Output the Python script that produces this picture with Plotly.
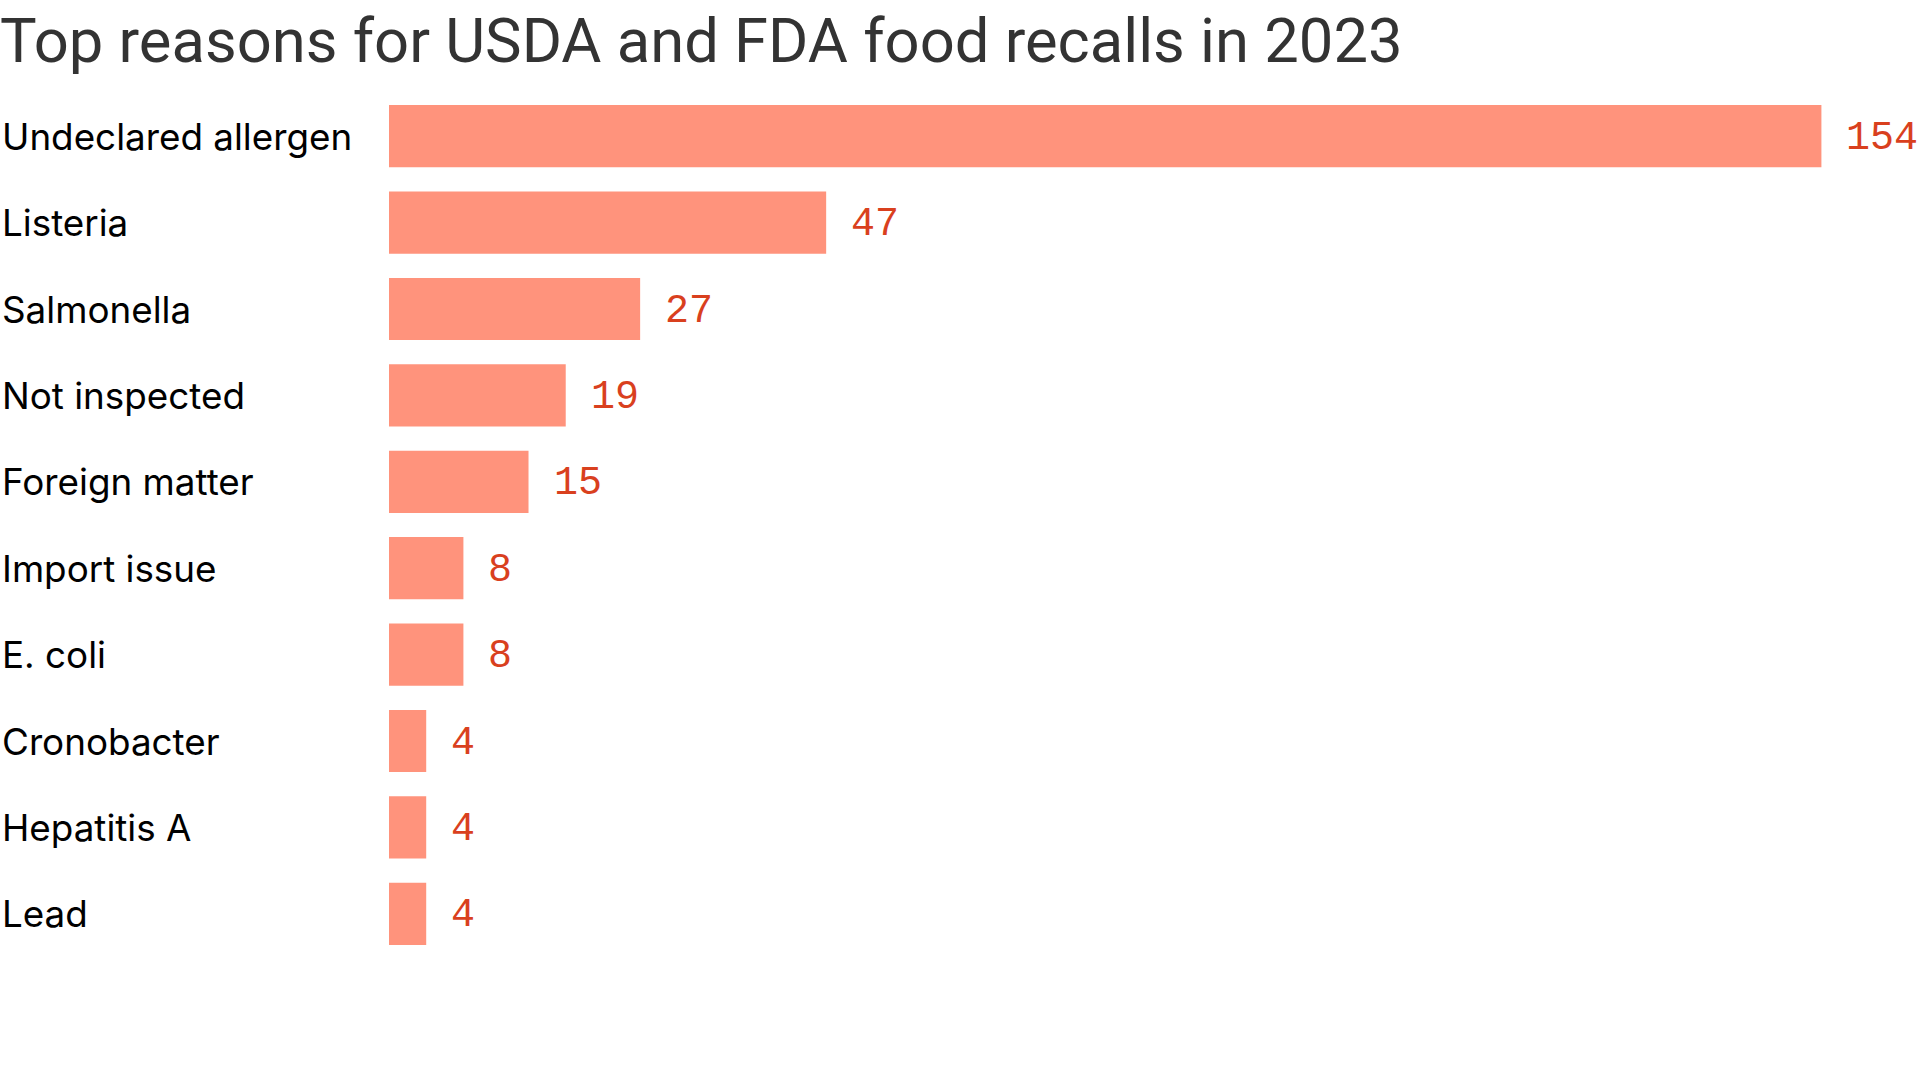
import plotly.graph_objects as go

categories = ["Undeclared allergen", "Listeria", "Salmonella", "Not inspected",
              "Foreign matter", "Import issue", "E. coli", "Cronobacter",
              "Hepatitis A", "Lead"]
values = [154, 47, 27, 19, 15, 8, 8, 4, 4, 4]
title_text = "Top reasons for USDA and FDA food recalls in 2023"

BAR_COLOR = "#ff937c"
VALUE_COLOR = "#d9401e"

W, H = 1920, 1080
plot_left = 389
top_m = 93
bot_m = 123

fig = go.Figure()
fig.add_trace(go.Bar(
    x=values,
    y=categories,
    orientation="h",
    marker=dict(color=BAR_COLOR, line=dict(width=0)),
    width=0.72,
    cliponaxis=False,
    hoverinfo="x+y",
))

annotations = []
for c in categories:
    annotations.append(dict(
        x=0, xref="paper", xanchor="left",
        y=c, yref="y", yanchor="middle",
        text=c, showarrow=False,
        font=dict(family="Inter, sans-serif", size=36.8, color="#000000"),
    ))
for c, v in zip(categories, values):
    annotations.append(dict(
        x=v, xref="x", xanchor="left", xshift=23,
        y=c, yref="y", yanchor="middle", yshift=-2,
        text=str(v), showarrow=False,
        font=dict(family="Liberation Mono, monospace", size=40, color=VALUE_COLOR),
    ))

fig.update_layout(
    width=W, height=H,
    margin=dict(l=0, r=0, t=top_m, b=bot_m, pad=0),
    paper_bgcolor="white",
    plot_bgcolor="white",
    showlegend=False,
    title=dict(
        text=title_text,
        x=0, xref="paper", xanchor="left",
        y=1 - 40 / H, yref="container", yanchor="middle",
        font=dict(family="Roboto, sans-serif", size=61.5, color="#333333"),
    ),
    xaxis=dict(visible=False, range=[0, 164.6],
               domain=[plot_left / W, 1]),
    yaxis=dict(visible=False, autorange="reversed",
               categoryorder="array", categoryarray=categories),
    annotations=annotations,
)

fig.write_html("out.html", config={"displayModeBar": False},
               post_script="document.body.style.margin='0';")
